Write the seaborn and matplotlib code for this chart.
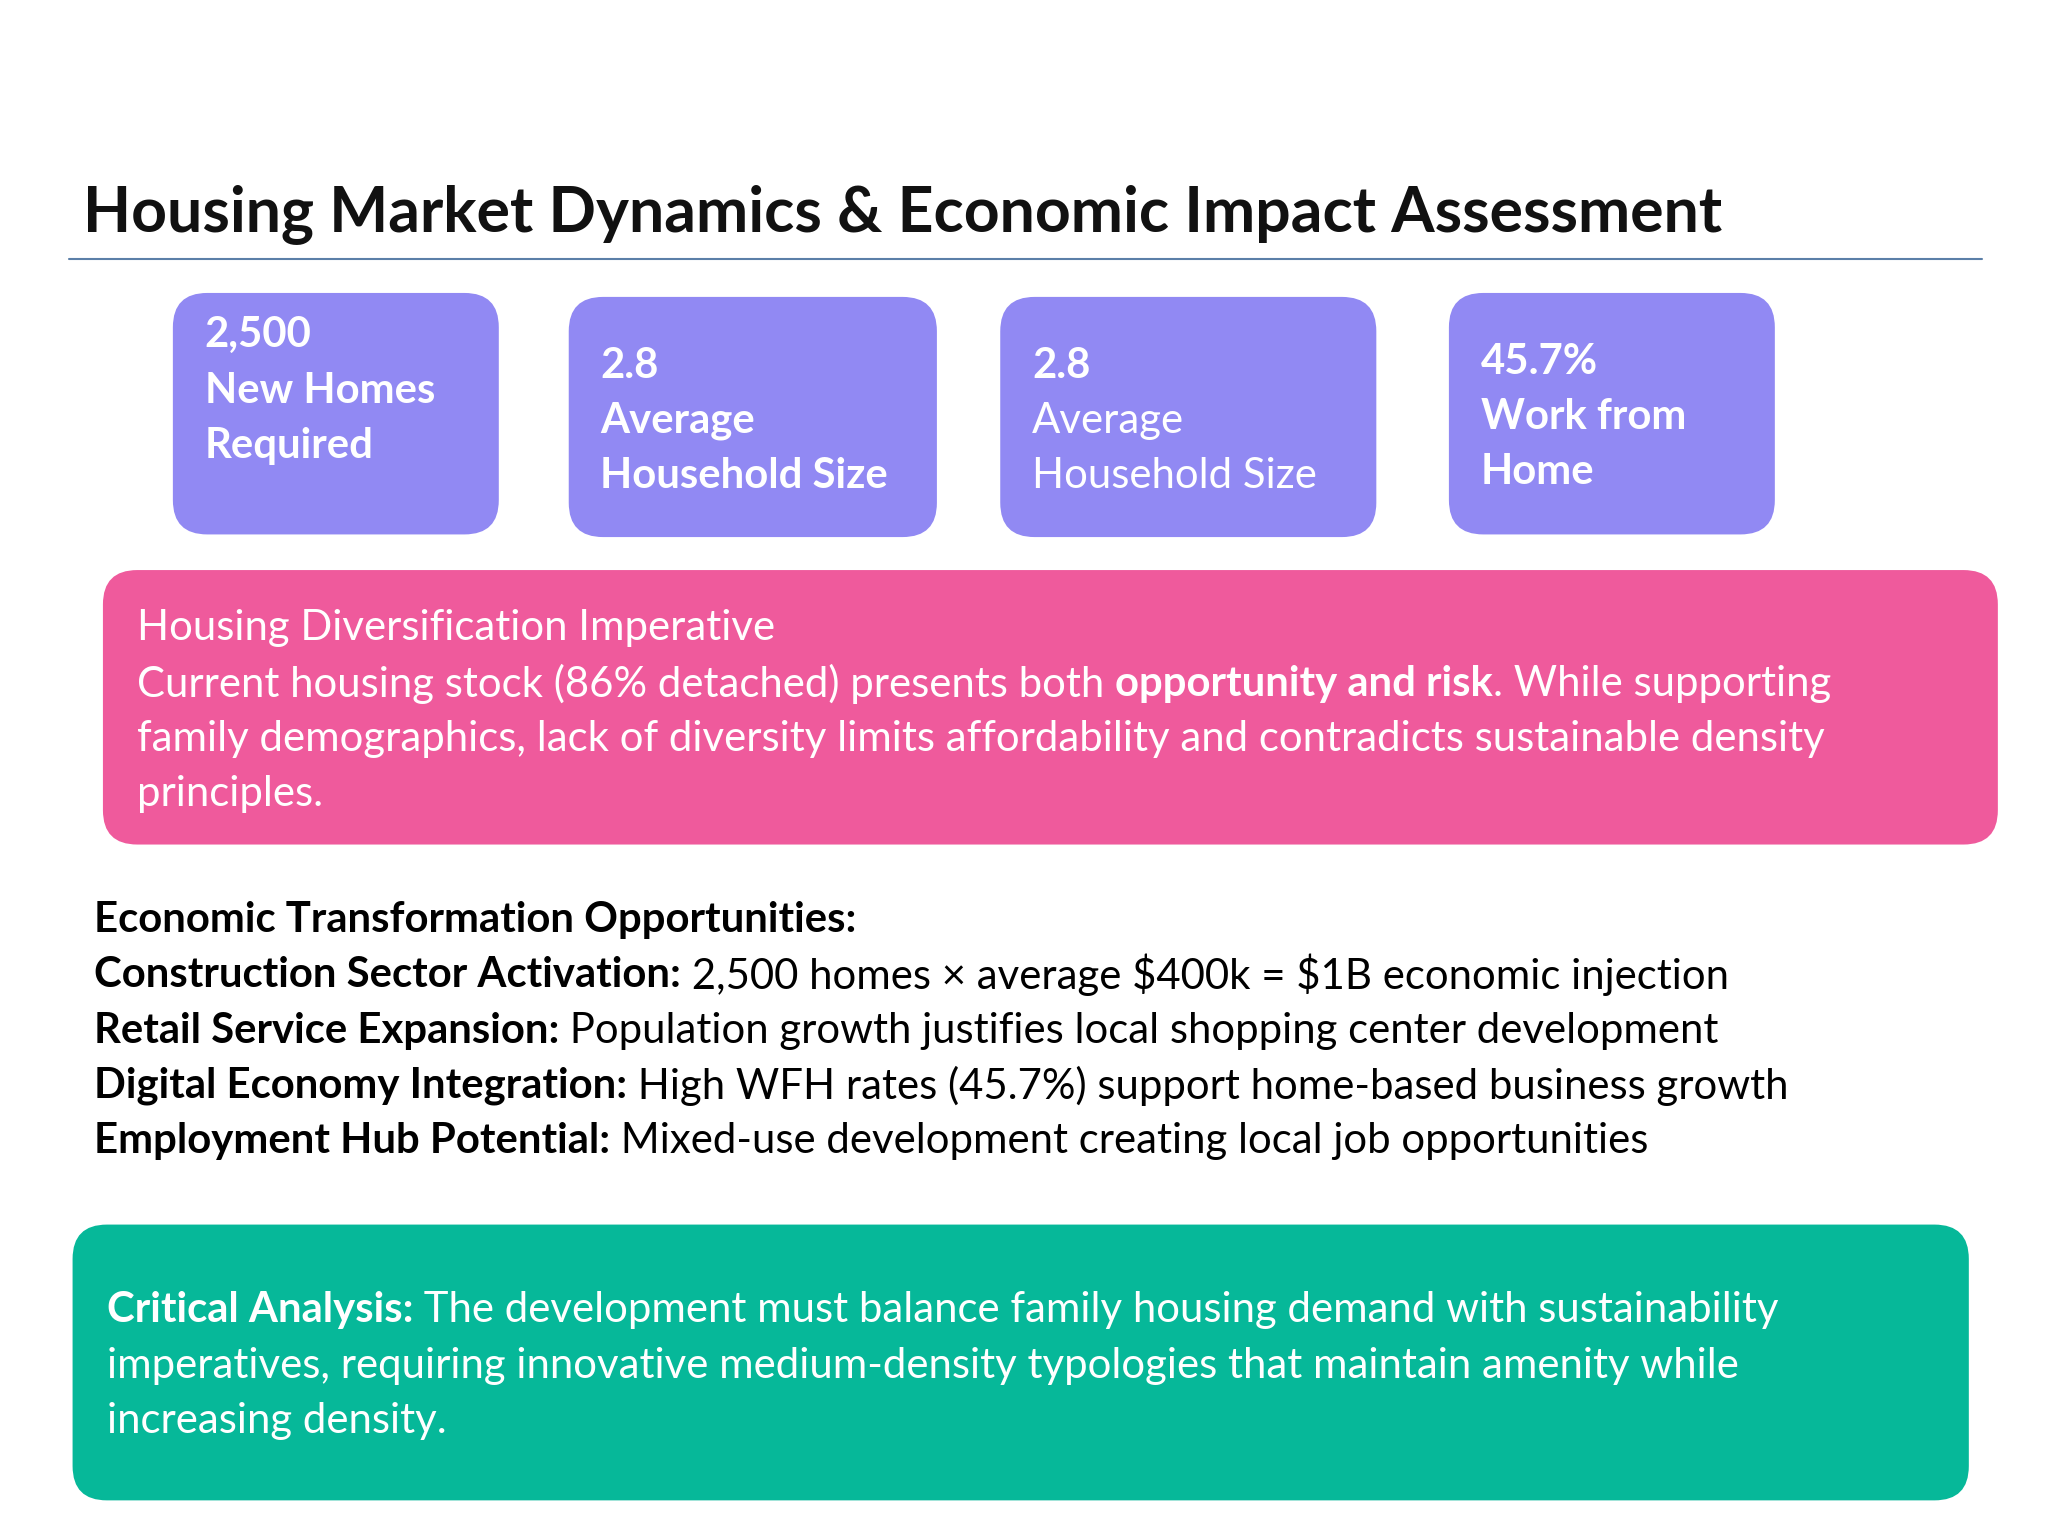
import matplotlib.pyplot as plt
import seaborn as sns
from matplotlib.patches import FancyBboxPatch

sns.set_theme(style="white")
plt.rcParams['font.family'] = ['Lato', 'DejaVu Sans']

title = "Housing Market Dynamics & Economic Impact Assessment"

card_values = ["2,500", "2.8", "2.8", "45.7%"]
card_labels = [["New Homes", "Required"], ["Average", "Household Size"],
               ["Average", "Household Size"], ["Work from", "Home"]]
card_label_bold = [True, True, False, True]

pink_title = "Housing Diversification Imperative"
pink_lines = [
    [("Current housing stock (86% detached) presents both ", "normal"),
     ("opportunity and risk", "bold"), (". While supporting", "normal")],
    [("family demographics, lack of diversity limits affordability and contradicts sustainable density", "normal")],
    [("principles.", "normal")],
]

econ_heading = "Economic Transformation Opportunities:"
econ_titles = ["Construction Sector Activation:", "Retail Service Expansion:",
               "Digital Economy Integration:", "Employment Hub Potential:"]
econ_texts = [r"2,500 homes × average \$400k = \$1B economic injection",
              "Population growth justifies local shopping center development",
              "High WFH rates (45.7%) support home-based business growth",
              "Mixed-use development creating local job opportunities"]

green_lines = [
    [("Critical Analysis:", "bold"),
     (" The development must balance family housing demand with sustainability", "normal")],
    [("imperatives, requiring innovative medium-density typologies that maintain amenity while", "normal")],
    [("increasing density.", "normal")],
]

W, H = 1552, 1164
fig = plt.figure(figsize=(20.48, 15.36), dpi=100)
ax = fig.add_axes([0, 0, 1, 1])
ax.set_xlim(0, W)
ax.set_ylim(H, 0)
ax.axis('off')

FS = 30.2


def box(x0, y0, x1, y1, color, r=26):
    ax.add_patch(FancyBboxPatch((x0, y0), x1 - x0, y1 - y0,
                                boxstyle=f"round,pad=0,rounding_size={r}",
                                fc=color, ec='none'))


def rich(x, y, parts, color):
    renderer = fig.canvas.get_renderer()
    inv = ax.transData.inverted()
    for s, w in parts:
        t = ax.text(x, y, s, fontsize=FS, fontweight=w, color=color, va='center', ha='left')
        bb = t.get_window_extent(renderer=renderer)
        x = inv.transform((bb.x1, bb.y0))[0]


ax.text(63, 162, title, fontsize=45, fontweight='bold', color='#111111', va='center')
ax.plot([52, 1502], [196, 196], color='#5b7fa8', lw=1.5)

card_x = [(131, 378, 222, 405), (431, 710, 225, 407), (758, 1043, 225, 407), (1098, 1345, 222, 405)]
card_first = [254, 277, 277, 274]
for (x0, x1, y0, y1), v, lab, b, yf in zip(card_x, card_values, card_labels, card_label_bold, card_first):
    box(x0, y0, x1, y1, '#9189f3')
    ax.text(x0 + 24, yf, v, fontsize=FS, fontweight='bold', color='white', va='center')
    for i, l in enumerate(lab):
        ax.text(x0 + 24, yf + 42 * (i + 1), l, fontsize=FS,
                fontweight='bold' if b else 'normal', color='white', va='center')

box(78, 432, 1514, 640, '#ef5a9c')
ax.text(104, 476, pink_title, fontsize=FS, color='white', va='center')
for i, parts in enumerate(pink_lines):
    rich(104, 518 + 42 * i, parts, 'white')

ax.text(71, 697, econ_heading, fontsize=FS, fontweight='bold', color='black', va='center')
for i, (t, d) in enumerate(zip(econ_titles, econ_texts)):
    rich(71, 739 + 42 * i, [(t, 'bold'), (" " + d, 'normal')], 'black')

box(55, 928, 1492, 1137, '#06b899')
for i, parts in enumerate(green_lines):
    rich(81, 993 + 42 * i, parts, 'white')

fig.savefig('out.png', dpi=100)
